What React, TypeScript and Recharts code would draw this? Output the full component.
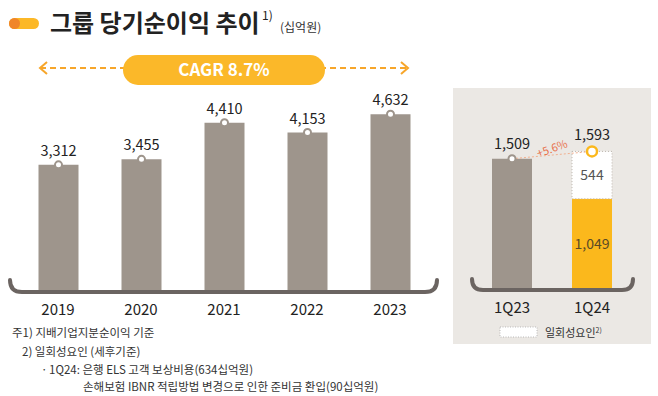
import React from 'react';
import { BarChart, Bar, XAxis, YAxis, LabelList, ComposedChart, Line, Cell } from 'recharts';

const years = ['2019', '2020', '2021', '2022', '2023'];
const annualProfit = [3312, 3455, 4410, 4153, 4632];
const quarters = ['1Q23', '1Q24'];
const quarterCore = [1509, 1049];
const quarterOneOff = [0, 544];
const quarterTotal = [1509, 1593];
const cagrLabel = 'CAGR 8.7%';
const growthLabel = '+5.6%';

const annualData = years.map((y, i) => ({ year: y, value: annualProfit[i] }));
const quarterData = quarters.map((q, i) => ({ q, core: quarterCore[i], oneOff: quarterOneOff[i], total: quarterTotal[i] }));

const FONT = '"Noto Sans CJK KR", "Noto Sans", sans-serif';
const GRAY = '#9e958c';
const YELLOW = '#fbb81c';
const fmt = (v: number) => Number(v).toLocaleString('en-US');

const AnnualLabel = (props: any) => {
  const { x, y, width, value } = props;
  const cx = x + width / 2;
  return (
    <g>
      <circle cx={cx} cy={y} r={3.5} fill="#fff" stroke={GRAY} strokeWidth={2} />
      <text x={cx} y={y - 9} textAnchor="middle" fontSize={14.5} fill="#222" fontFamily={FONT}>{fmt(value)}</text>
    </g>
  );
};

const TotalDot = (props: any) => {
  const { cx, cy, index } = props;
  if (index === 1) return <circle key={index} cx={cx} cy={cy} r={5} fill="#fff" stroke={YELLOW} strokeWidth={2.5} />;
  return <circle key={index} cx={cx} cy={cy} r={3.5} fill="#fff" stroke={GRAY} strokeWidth={2} />;
};

const TotalLabel = (props: any) => {
  const { x, y, index, value } = props;
  return (
    <g>
      <text x={x} y={y - (index === 1 ? 11 : 10)} textAnchor="middle" fontSize={14.5} fill="#222" fontFamily={FONT}>{fmt(value)}</text>
      {index === 1 && (
        <text x={x - 40} y={y + 1} textAnchor="middle" fontSize={11} fill="#e8704a" fontFamily={FONT}
          transform={`rotate(-20 ${x - 40} ${y - 3})`}>{growthLabel}</text>
      )}
    </g>
  );
};

const CoreLabel = (props: any) => {
  const { x, y, width, height, value, index } = props;
  if (index !== 1 || !value) return null;
  return (
    <text x={x + width / 2} y={y + height / 2 + 5} textAnchor="middle" fontSize={14} fill="#5a4a26" fontFamily={FONT}>{fmt(value)}</text>
  );
};

const OneOffLabel = (props: any) => {
  const { x, y, width, height, value } = props;
  if (!value || !height) return null;
  return (
    <text x={x + width / 2} y={y + height / 2 + 5} textAnchor="middle" fontSize={14} fill="#555" fontFamily={FONT}>{fmt(value)}</text>
  );
};

export default function App() {
  return (
    <div style={{ position: 'absolute', left: 0, top: 0, width: 658, height: 396, background: '#fff', fontFamily: FONT, overflow: 'hidden' }}>
      <div style={{ position: 'absolute', left: 453, top: 88, width: 198, height: 256, background: '#ebe8e4' }} />
      <div style={{ position: 'absolute', left: 0, top: 0 }}>
        <BarChart width={440} height={330} data={annualData} margin={{ top: 100, right: 8.5, bottom: 8, left: 16.5 }}>
          <YAxis hide domain={[0, 5000]} />
          <XAxis dataKey="year" axisLine={false} tickLine={false} tickMargin={6} height={30}
            tick={{ fill: '#222', fontSize: 15, fontFamily: FONT }} />
          <Bar dataKey="value" fill={GRAY} barSize={40} isAnimationActive={false}>
            <LabelList dataKey="value" content={AnnualLabel} />
          </Bar>
        </BarChart>
      </div>
      <div style={{ position: 'absolute', left: 440, top: 0 }}>
        <ComposedChart width={218} height={330} data={quarterData} margin={{ top: 116, right: 26, bottom: 10, left: 32 }}>
          <YAxis hide domain={[0, 2000]} />
          <XAxis dataKey="q" axisLine={false} tickLine={false} tickMargin={6} height={30}
            tick={{ fill: '#222', fontSize: 15, fontFamily: FONT }} />
          <Line dataKey="total" stroke="#f2b08f" strokeWidth={1} strokeDasharray="2 2" isAnimationActive={false}
            dot={TotalDot} activeDot={false}>
            <LabelList dataKey="total" content={TotalLabel} />
          </Line>
          <Bar dataKey="core" stackId="a" barSize={40} isAnimationActive={false}>
            {quarterData.map((d, i) => <Cell key={i} fill={i === 0 ? GRAY : YELLOW} />)}
            <LabelList dataKey="core" content={CoreLabel} />
          </Bar>
          <Bar dataKey="oneOff" stackId="a" barSize={40} fill="#fff" stroke="#bdb6ae" strokeWidth={1} strokeDasharray="1 2" isAnimationActive={false}>
            <LabelList dataKey="oneOff" content={OneOffLabel} />
          </Bar>
        </ComposedChart>
      </div>
      <svg width={658} height={396} style={{ position: 'absolute', left: 0, top: 0, pointerEvents: 'none' }} fontFamily={FONT}>
        <rect x={9} y={18} width={30} height={11} rx={5.5} fill="#fcb827" />
        <circle cx={14.5} cy={23.5} r={5.5} fill="#f0862a" />
        <text x={50} y={32} fontSize={24} fontWeight={700} fill="#222">그룹 당기순이익 추이</text>
        <text x={262} y={20} fontSize={12} fill="#222">1)</text>
        <text x={280} y={32} fontSize={12} fill="#333">(십억원)</text>
        <line x1={40} y1={68} x2={408} y2={68} stroke="#f7a62a" strokeWidth={2} strokeDasharray="6 4" />
        <polyline points="47,62 40,68 47,74" fill="none" stroke="#f7a62a" strokeWidth={2} />
        <polyline points="401,62 408,68 401,74" fill="none" stroke="#f7a62a" strokeWidth={2} />
        <rect x={123} y={55} width={202} height={30} rx={15} fill="#fbb829" />
        <text x={224} y={76} textAnchor="middle" fontSize={17} fontWeight={700} fill="#fff">{cagrLabel}</text>
        <path d="M10,280 Q10,292 22,292 L425,292 Q437,292 437,280" fill="none" stroke="#6b6461" strokeWidth={4} strokeLinecap="round" />
        <path d="M472,279 Q472,290 483,290 L622,290 Q633,290 633,279" fill="none" stroke="#6b6461" strokeWidth={4} strokeLinecap="round" />
        <rect x={500} y={327} width={37} height={10} fill="#fff" stroke="#aaa" strokeWidth={0.8} strokeDasharray="1 1.5" />
        <text x={545} y={337} fontSize={11} fill="#333">일회성요인<tspan fontSize={7} dy={-4}>2)</tspan></text>
        <text x={12} y={337} fontSize={11.5} fill="#333">주1) 지배기업지분순이익 기준</text>
        <text x={22} y={356} fontSize={11.5} fill="#333">2) 일회성요인 (세후기준)</text>
        <text x={41} y={374} fontSize={11.5} fill="#333">·</text>
        <text x={49} y={374} fontSize={11.5} fill="#333">1Q24: 은행 ELS 고객 보상비용(634십억원)</text>
        <text x={83} y={391} fontSize={11.5} fill="#333">손해보험 IBNR 적립방법 변경으로 인한 준비금 환입(90십억원)</text>
      </svg>
    </div>
  );
}
